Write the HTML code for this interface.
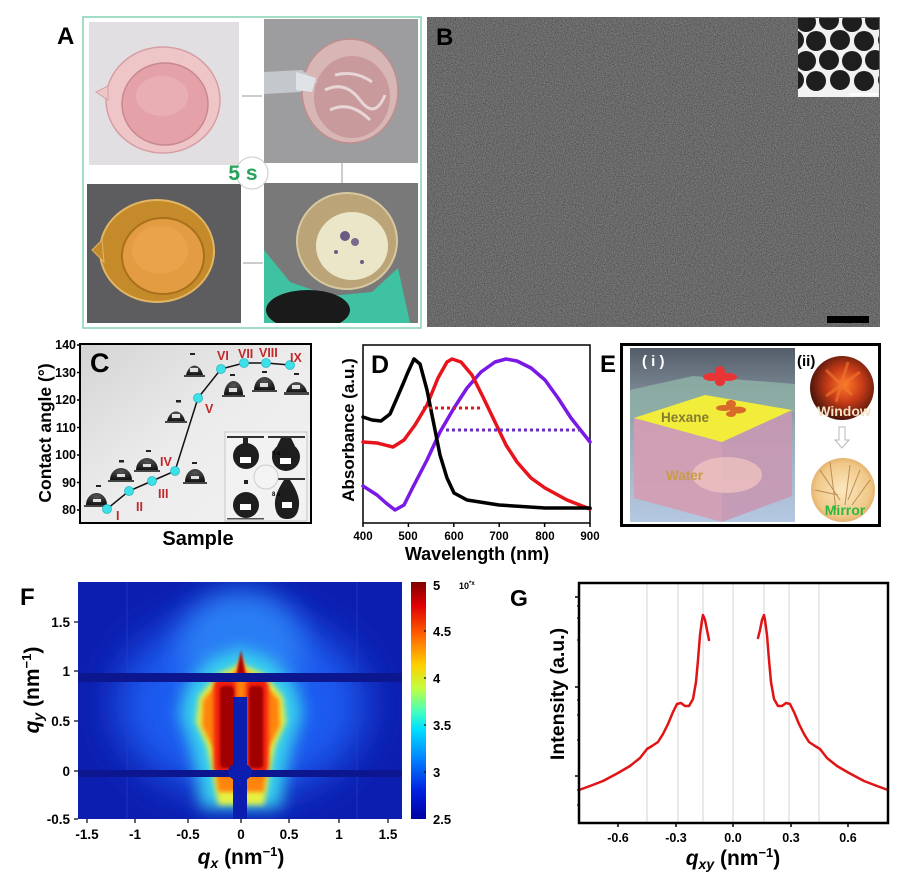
<!DOCTYPE html>
<html><head><meta charset="utf-8"><style>
html,body{margin:0;padding:0;background:#fff;}
svg{display:block;}
text{font-family:"Liberation Sans",sans-serif;font-weight:bold;}
</style></head><body>
<svg width="908" height="886" viewBox="0 0 908 886" xmlns="http://www.w3.org/2000/svg">
<defs>
  <filter id="b1" x="-50%" y="-50%" width="200%" height="200%"><feGaussianBlur stdDeviation="1"/></filter>
  <filter id="b2" x="-50%" y="-50%" width="200%" height="200%"><feGaussianBlur stdDeviation="2"/></filter>
  <filter id="b3" x="-50%" y="-50%" width="200%" height="200%"><feGaussianBlur stdDeviation="3"/></filter>
  <filter id="b5" x="-50%" y="-50%" width="200%" height="200%"><feGaussianBlur stdDeviation="5"/></filter>
  <filter id="b8" x="-50%" y="-50%" width="200%" height="200%"><feGaussianBlur stdDeviation="8"/></filter>
  <filter id="b14" x="-50%" y="-50%" width="200%" height="200%"><feGaussianBlur stdDeviation="14"/></filter>
  <filter id="b20" x="-50%" y="-50%" width="200%" height="200%"><feGaussianBlur stdDeviation="20"/></filter>
  <filter id="noise" x="0" y="0" width="100%" height="100%" color-interpolation-filters="sRGB">
    <feTurbulence type="fractalNoise" baseFrequency="0.9" numOctaves="2" seed="4"/>
    <feColorMatrix type="matrix" values="1 0 0 0 0  1 0 0 0 0  1 0 0 0 0  0 0 0 0 1"/>
  </filter>
  <linearGradient id="jet" x1="0" y1="0" x2="0" y2="1">
    <stop offset="0" stop-color="#7f0000"/>
    <stop offset="0.1" stop-color="#e00000"/>
    <stop offset="0.22" stop-color="#ff6000"/>
    <stop offset="0.35" stop-color="#ffd000"/>
    <stop offset="0.45" stop-color="#c0ff40"/>
    <stop offset="0.55" stop-color="#40ffc0"/>
    <stop offset="0.62" stop-color="#00e0ff"/>
    <stop offset="0.75" stop-color="#0080ff"/>
    <stop offset="0.88" stop-color="#0020e0"/>
    <stop offset="1" stop-color="#0000a0"/>
  </linearGradient>
  <linearGradient id="cbg" x1="0" y1="0" x2="1" y2="1">
    <stop offset="0" stop-color="#d4d4d4"/>
    <stop offset="0.5" stop-color="#ececec"/>
    <stop offset="1" stop-color="#f2f2f2"/>
  </linearGradient>
  <linearGradient id="ebg" x1="0" y1="0" x2="0" y2="1">
    <stop offset="0" stop-color="#545e6a"/>
    <stop offset="0.45" stop-color="#98a8b4"/>
    <stop offset="1" stop-color="#b4c8e2"/>
  </linearGradient>
  <radialGradient id="win" cx="0.55" cy="0.45" r="0.6">
    <stop offset="0" stop-color="#ff7a28"/>
    <stop offset="0.45" stop-color="#c83c18"/>
    <stop offset="1" stop-color="#3a0e08"/>
  </radialGradient>
  <radialGradient id="mir" cx="0.5" cy="0.5" r="0.6">
    <stop offset="0" stop-color="#fbe8c0"/>
    <stop offset="0.7" stop-color="#f0c888"/>
    <stop offset="1" stop-color="#d89850"/>
  </radialGradient>
  <radialGradient id="drop" cx="0.5" cy="0.3" r="0.7">
    <stop offset="0" stop-color="#555"/>
    <stop offset="1" stop-color="#151515"/>
  </radialGradient>
  <clipPath id="cA1"><rect x="89" y="22" width="150" height="143"/></clipPath>
  <clipPath id="cA2"><rect x="264" y="19" width="154" height="144"/></clipPath>
  <clipPath id="cA3"><rect x="87" y="184" width="154" height="139"/></clipPath>
  <clipPath id="cA4"><rect x="264" y="183" width="154" height="140"/></clipPath>
  <clipPath id="cB"><rect x="427" y="17" width="453" height="310"/></clipPath>
  <clipPath id="cBi"><rect x="798" y="18" width="81" height="79"/></clipPath>
  <clipPath id="cF"><rect x="78" y="582" width="324" height="237"/></clipPath>
  <clipPath id="cE"><rect x="630" y="348" width="165" height="174"/></clipPath>
  <clipPath id="cW"><circle cx="842" cy="388" r="32"/></clipPath>
  <clipPath id="cM"><circle cx="843" cy="490" r="32"/></clipPath>
</defs>

<!-- ================= PANEL A ================= -->
<text x="57" y="44" font-size="24">A</text>
<rect x="83" y="17" width="338" height="311" fill="none" stroke="#86d2b4" stroke-width="1.5"/>
<g clip-path="url(#cA1)">
  <rect x="89" y="22" width="150" height="143" fill="#e2dfe2"/>
  <ellipse cx="163" cy="100" rx="57" ry="53" fill="#efc6c8" stroke="#d69ea4" stroke-width="1.5"/>
  <path d="M108,86 L96,92 L108,100 Z" fill="#efc6c8" stroke="#d69ea4" stroke-width="1"/>
  <ellipse cx="165" cy="104" rx="43" ry="41" fill="#e4a2a8" stroke="#c88890" stroke-width="1.5"/>
  <ellipse cx="162" cy="96" rx="26" ry="20" fill="#eab4b8" opacity="0.7"/>
</g>
<g clip-path="url(#cA2)">
  <rect x="264" y="19" width="154" height="144" fill="#9d9d9f"/>
  <ellipse cx="350" cy="91" rx="48" ry="52" fill="#d8b6b6" stroke="#c08c8c" stroke-width="1.5"/>
  <ellipse cx="352" cy="97" rx="38" ry="41" fill="#c89a9c"/>
  <path d="M325,90 Q345,80 360,100 T385,95 M330,110 Q350,100 370,120 M335,75 Q355,70 372,82" stroke="#f0e4e4" stroke-width="3" fill="none" opacity="0.8"/>
  <polygon points="264,72 302,70 318,82 300,92 264,94" fill="#c4c8cc"/>
  <polygon points="296,72 316,78 312,92 296,90" fill="#dfe2e6"/>
</g>
<g clip-path="url(#cA3)">
  <rect x="87" y="184" width="154" height="139" fill="#5d5d5f"/>
  <ellipse cx="157" cy="251" rx="57" ry="51" fill="#c58a2a" stroke="#e2b664" stroke-width="2"/>
  <path d="M102,240 L92,250 L104,262 Z" fill="#c58a2a" stroke="#e2b664" stroke-width="1"/>
  <ellipse cx="163" cy="256" rx="41" ry="38" fill="#e49c42" stroke="#a8701c" stroke-width="2"/>
  <ellipse cx="160" cy="250" rx="28" ry="24" fill="#eca650" opacity="0.7"/>
</g>
<g clip-path="url(#cA4)">
  <rect x="264" y="183" width="154" height="140" fill="#797979"/>
  <polygon points="264,250 290,282 330,296 372,292 398,268 410,323 264,323" fill="#3ec2a2"/>
  <ellipse cx="308" cy="310" rx="42" ry="20" fill="#1a1a1a"/>
  <ellipse cx="347" cy="241" rx="50" ry="48" fill="#bba478" stroke="#d8c8a0" stroke-width="2"/>
  <ellipse cx="352" cy="246" rx="36" ry="34" fill="#ece6c8"/>
  <circle cx="345" cy="236" r="5" fill="#6a5a84"/>
  <circle cx="355" cy="242" r="4" fill="#7a6a90"/>
  <circle cx="336" cy="252" r="2" fill="#6a5a84"/>
  <circle cx="362" cy="262" r="2" fill="#6a5a84"/>
</g>
<line x1="242" y1="96" x2="262" y2="96" stroke="#999" stroke-width="1"/>
<line x1="342" y1="163" x2="342" y2="183" stroke="#999" stroke-width="1"/>
<line x1="263" y1="263" x2="243" y2="263" stroke="#999" stroke-width="1"/>
<circle cx="252" cy="173" r="16" fill="#fff" stroke="#c8c8c8" stroke-width="1"/>
<text x="243" y="180" font-size="21" fill="#25a35a" text-anchor="middle">5 s</text>

<!-- ================= PANEL B ================= -->
<g clip-path="url(#cB)">
  <rect x="427" y="17" width="453" height="310" fill="#5e5e5e"/>
  <rect x="427" y="17" width="453" height="310" filter="url(#noise)" opacity="0.35"/>
</g>
<g clip-path="url(#cBi)">
  <rect x="798" y="18" width="81" height="79" fill="#f2f2f2"/>
  <g fill="#1e1e1e">
    <circle cx="806" cy="22" r="10"/><circle cx="829" cy="20" r="10"/><circle cx="852" cy="22" r="10"/><circle cx="875" cy="20" r="10"/>
    <circle cx="816" cy="41" r="10"/><circle cx="840" cy="40" r="10"/><circle cx="864" cy="41" r="10"/><circle cx="888" cy="40" r="10"/><circle cx="794" cy="40" r="10"/>
    <circle cx="806" cy="61" r="10"/><circle cx="829" cy="60" r="10"/><circle cx="852" cy="61" r="10"/><circle cx="875" cy="60" r="10"/>
    <circle cx="816" cy="81" r="10"/><circle cx="840" cy="80" r="10"/><circle cx="864" cy="81" r="10"/><circle cx="794" cy="80" r="10"/><circle cx="888" cy="80" r="10"/>
  </g>
  <rect x="850" y="93" width="27" height="2.5" fill="#fff"/>
</g>
<rect x="827" y="316" width="42" height="7" fill="#000"/>
<text x="436" y="45" font-size="24">B</text>

<!-- ================= PANEL C ================= -->
<rect x="80" y="344" width="231" height="179" fill="url(#cbg)" stroke="#000" stroke-width="2"/>
<g font-size="12.5" text-anchor="end">
  <text x="76" y="349">140</text><text x="76" y="377">130</text><text x="76" y="404">120</text>
  <text x="76" y="432">110</text><text x="76" y="459">100</text><text x="76" y="487">90</text><text x="76" y="514">80</text>
</g>
<g stroke="#000" stroke-width="1.5">
  <line x1="77" y1="345" x2="80" y2="345"/><line x1="77" y1="372.5" x2="80" y2="372.5"/><line x1="77" y1="400" x2="80" y2="400"/>
  <line x1="77" y1="427.5" x2="80" y2="427.5"/><line x1="77" y1="455" x2="80" y2="455"/><line x1="77" y1="482.5" x2="80" y2="482.5"/><line x1="77" y1="510" x2="80" y2="510"/>
</g>
<text x="45" y="433" font-size="17.5" text-anchor="middle" transform="rotate(-90 45 433)" dy="6">Contact angle (°)</text>
<text x="198" y="545" font-size="20" text-anchor="middle">Sample</text>
<text x="90" y="372" font-size="27">C</text>
<g fill="url(#drop)">
  <path d="M86,505 A10.5,12 0 0 1 107,505 Z"/>
  <path d="M110,480 A11,12 0 0 1 132,480 Z"/>
  <path d="M136,470 A11,12 0 0 1 158,470 Z"/>
  <path d="M185,482 A10,13 0 0 1 205,482 Z"/>
  <path d="M167,421 A9.5,14 0 0 1 185,421 Z"/>
  <path d="M186,375 A9,14 0 0 1 203,375 Z"/>
  <path d="M224,395 A9.5,14 0 0 1 243,395 Z"/>
  <path d="M254,390 A10.5,13 0 0 1 275,390 Z"/>
  <path d="M286,392 A11,14 0 0 1 307,392 Z"/>
</g>
<g fill="#fff" opacity="0.85">
  <rect x="93" y="499" width="8" height="3"/><rect x="117" y="474" width="8" height="3"/><rect x="143" y="464" width="8" height="3"/>
  <rect x="191" y="476" width="8" height="3"/><rect x="172" y="414" width="8" height="4"/><rect x="190" y="368" width="8" height="4"/>
  <rect x="229" y="388" width="8" height="4"/><rect x="260" y="383" width="8" height="4"/><rect x="292" y="385" width="8" height="4"/>
</g>
<g fill="#444">
  <rect x="84" y="505" width="26" height="2"/><rect x="108" y="480" width="26" height="2"/><rect x="134" y="470" width="26" height="2"/>
  <rect x="183" y="482" width="24" height="2"/><rect x="165" y="421" width="22" height="2"/><rect x="184" y="375" width="21" height="2"/>
  <rect x="222" y="395" width="23" height="2"/><rect x="252" y="390" width="25" height="2"/><rect x="284" y="392" width="25" height="3"/>
</g>
<g fill="#222">
  <rect x="96" y="485" width="5" height="2"/><rect x="119" y="460" width="5" height="2.5"/><rect x="146" y="450" width="5" height="2"/>
  <rect x="192" y="462" width="5" height="2"/><rect x="176" y="400" width="5" height="2.5"/><rect x="190" y="353" width="5" height="2"/>
  <rect x="230" y="374" width="5" height="2"/><rect x="262" y="371" width="5" height="2"/><rect x="294" y="373" width="5" height="2"/>
</g>
<polyline points="107,509 129,491 152,481 175,471 198,398 221,369 244,363 266,363 290,365" fill="none" stroke="#111" stroke-width="1.5"/>
<g fill="#3ee0e8" stroke="#28b8c8" stroke-width="0.8">
  <circle cx="107" cy="509" r="4.5"/><circle cx="129" cy="491" r="4.5"/><circle cx="152" cy="481" r="4.5"/>
  <circle cx="175" cy="471" r="4.5"/><circle cx="198" cy="398" r="4.5"/><circle cx="221" cy="369" r="4.5"/>
  <circle cx="244" cy="363" r="4.5"/><circle cx="266" cy="363" r="4.5"/><circle cx="290" cy="365" r="4.5"/>
</g>
<g fill="#c0282c" font-size="12.5">
  <text x="116" y="520">I</text><text x="136" y="511">II</text><text x="158" y="498">III</text>
  <text x="160" y="466">IV</text><text x="205" y="413">V</text><text x="217" y="360">VI</text>
  <text x="238" y="358" font-family="Liberation Serif">VII</text><text x="259" y="357" font-family="Liberation Serif">VIII</text><text x="290" y="362">IX</text>
</g>
<rect x="225" y="432" width="82" height="89" fill="#f2f2f2" stroke="#bbb" stroke-width="0.8"/>
<g>
  <rect x="227" y="436" width="37" height="2" fill="#333"/>
  <rect x="243" y="438" width="5" height="6" fill="#222"/>
  <circle cx="246" cy="456" r="13" fill="#1e1e1e"/>
  <rect x="240" y="457" width="11" height="6" fill="#fff"/>
  <rect x="268" y="436" width="37" height="2" fill="#333"/>
  <path d="M281,438 L291,438 L295,446 L277,446 Z" fill="#1e1e1e"/>
  <circle cx="286" cy="457" r="14" fill="#1e1e1e"/>
  <rect x="280" y="458" width="11" height="6" fill="#fff"/>
  <rect x="227" y="518" width="37" height="1.5" fill="#555"/>
  <rect x="244" y="480" width="4" height="4" fill="#222"/>
  <circle cx="246" cy="505" r="13" fill="#1e1e1e"/>
  <rect x="240" y="504" width="11" height="6" fill="#fff"/>
  <rect x="268" y="478" width="37" height="2" fill="#333"/>
  <path d="M284,480 L290,480 Q300,495 299,505 Q298,519 287,519 Q276,519 275,505 Q274,495 284,480 Z" fill="#1e1e1e"/>
  <rect x="282" y="502" width="10" height="6" fill="#fff"/>
  <circle cx="266" cy="477" r="12" fill="#f4f4f4" stroke="#ccc" stroke-width="1"/>
  <text x="272" y="455" font-size="6" font-weight="normal">0 s</text>
  <text x="272" y="496" font-size="6" font-weight="normal">8 s</text>
</g>

<!-- ================= PANEL D ================= -->
<rect x="363" y="345" width="227" height="178" fill="#fff" stroke="#000" stroke-width="1.5"/>
<g stroke="#000" stroke-width="1.5">
  <line x1="363" y1="523" x2="363" y2="527"/><line x1="408.4" y1="523" x2="408.4" y2="527"/><line x1="453.8" y1="523" x2="453.8" y2="527"/>
  <line x1="499.2" y1="523" x2="499.2" y2="527"/><line x1="544.6" y1="523" x2="544.6" y2="527"/><line x1="590" y1="523" x2="590" y2="527"/>
</g>
<g font-size="11.5" text-anchor="middle">
  <text x="363" y="540">400</text><text x="408" y="540">500</text><text x="454" y="540">600</text>
  <text x="499" y="540">700</text><text x="545" y="540">800</text><text x="590" y="540">900</text>
</g>
<text x="477" y="560" font-size="18" text-anchor="middle">Wavelength (nm)</text>
<text x="348" y="430" font-size="17" text-anchor="middle" transform="rotate(-90 348 430)" dy="6">Absorbance (a.u.)</text>
<g fill="none" stroke-width="3.5" stroke-linejoin="round" stroke-linecap="round">
  <polyline stroke="#7a18e6" points="363,486 377,495 386,503 395,510 404,505 413,487 427,460 440,432 454,408 467,388 481,372 495,362 506,359 517,361 531,368 545,380 558,398 571,418 590,442"/>
  <polyline stroke="#e8141c" points="363,442 377,443 393,447 404,440 415,425 427,405 438,378 447,362 452,359 461,362 472,375 483,397 495,422 506,445 517,462 531,478 545,488 567,500 590,509"/>
  <polyline stroke="#000" points="363,417 372,420 381,421 390,414 397,398 403,384 408,372 414,359 420,364 427,390 433,420 440,455 447,478 454,493 467,500 499,505 545,508 590,508"/>
</g>
<line x1="423" y1="408" x2="482" y2="408" stroke="#e01818" stroke-width="3" stroke-dasharray="3,3"/>
<line x1="446" y1="430" x2="582" y2="430" stroke="#6a2ec2" stroke-width="3" stroke-dasharray="3,3"/>
<text x="371" y="373" font-size="25">D</text>

<!-- ================= PANEL E ================= -->
<text x="600" y="372" font-size="24">E</text>
<rect x="621.5" y="344.5" width="258" height="181" fill="#fff" stroke="#000" stroke-width="3"/>
<g clip-path="url(#cE)">
  <rect x="630" y="348" width="165" height="174" fill="url(#ebg)"/>
  <polygon points="630,390 693,376 795,384 795,412 722,442 630,418" fill="#8eb0a6" opacity="0.85"/>
  <polygon points="634,418 722,442 722,522 634,498" fill="#d49cb2" opacity="0.9"/>
  <polygon points="722,442 792,410 792,496 722,522" fill="#c898b2" opacity="0.9"/>
  <polygon points="634,418 705,395 792,410 722,442" fill="#f2ec3a"/>
  <ellipse cx="727" cy="475" rx="35" ry="18" fill="#f0c4c0" opacity="0.75"/>
  <g fill="#e83434">
    <ellipse cx="712" cy="377" rx="9" ry="4"/><ellipse cx="728" cy="377" rx="9" ry="4"/><ellipse cx="720" cy="372" rx="5" ry="6"/><ellipse cx="720" cy="382" rx="5" ry="4"/>
  </g>
  <g fill="#d86a2a">
    <ellipse cx="724" cy="408" rx="8" ry="3"/><ellipse cx="738" cy="410" rx="8" ry="3.5"/><ellipse cx="731" cy="404" rx="5" ry="4"/><ellipse cx="731" cy="414" rx="5" ry="3"/>
  </g>
  <text x="661" y="422" font-size="13.5" fill="#857a34">Hexane</text>
  <text x="666" y="480" font-size="13.5" fill="#c99c44">Water</text>
  <text x="642" y="366" font-size="15" fill="#fff">( i )</text>
</g>
<text x="797" y="366" font-size="15" fill="#000">(ii)</text>
<circle cx="842" cy="388" r="32" fill="url(#win)"/>
<g clip-path="url(#cW)">
  <path d="M826,370 L852,395 M848,362 L836,402 M860,372 L826,396" stroke="#f07a30" stroke-width="3" opacity="0.6"/>
</g>
<text x="844" y="416" font-size="14" fill="#f4e2c4" text-anchor="middle">Window</text>
<path d="M839,427 L845,427 L845,440 L849,440 L842,448 L835,440 L839,440 Z" fill="#fff" stroke="#b8b8b8" stroke-width="1"/>
<circle cx="843" cy="490" r="32" fill="url(#mir)"/>
<g clip-path="url(#cM)" stroke="#b07a40" stroke-width="1" fill="none" opacity="0.8">
  <path d="M820,470 L840,500 M830,462 L836,510 M850,465 L845,505 M860,470 L848,500 M870,480 L852,505 M815,490 L838,495"/>
</g>
<text x="845" y="515" font-size="14" fill="#2cb83e" text-anchor="middle">Mirror</text>

<!-- ================= PANEL F ================= -->
<text x="20" y="605" font-size="24">F</text>
<g clip-path="url(#cF)">
  <rect x="78" y="582" width="324" height="237" fill="#0c1eb0"/>
  <ellipse cx="241" cy="705" rx="125" ry="92" fill="#1f5cf0" filter="url(#b20)"/>
  <ellipse cx="241" cy="648" rx="62" ry="58" fill="#2a7ef4" filter="url(#b14)"/>
  <polygon points="241,648 272,660 296,688 303,714 292,745 284,780 281,808 201,808 198,780 190,745 179,714 186,688 210,660" fill="#38d2ee" filter="url(#b8)"/>
  <polygon points="241,664 264,674 283,697 286,722 275,746 268,780 264,805 218,805 214,780 207,746 196,722 199,697 218,674" fill="#e8f040" filter="url(#b3)"/>
  <polygon points="241,670 262,680 279,700 280,726 269,748 264,792 218,792 213,748 202,726 203,700 220,680" fill="#ff8410" filter="url(#b2)"/>
  <rect x="214" y="678" width="22" height="96" rx="7" fill="#f01a08" filter="url(#b2)"/>
  <rect x="246" y="678" width="22" height="96" rx="7" fill="#f01a08" filter="url(#b2)"/>
  <rect x="220" y="686" width="14" height="82" rx="4" fill="#a00000" filter="url(#b1)"/>
  <rect x="249" y="686" width="14" height="82" rx="4" fill="#a00000" filter="url(#b1)"/>
  <line x1="241" y1="582" x2="241" y2="655" stroke="#6ae4f0" stroke-width="4" filter="url(#b2)" opacity="0.8"/>
  <polygon points="233,677 241,655 249,677" fill="#ff9020" filter="url(#b2)"/>
  <polygon points="236,677 241,650 246,677" fill="#b00000" filter="url(#b1)"/>
  <line x1="127" y1="582" x2="127" y2="819" stroke="#2a44c8" stroke-width="1" opacity="0.6"/>
  <line x1="357" y1="582" x2="357" y2="819" stroke="#2a44c8" stroke-width="1" opacity="0.6"/>
  <rect x="78" y="673" width="324" height="9" fill="#0c168e"/>
  <rect x="78" y="770" width="324" height="7" fill="#0c168e"/>
  <rect x="233" y="697" width="14" height="122" fill="#0c1eb0"/>
  <ellipse cx="240" cy="772" rx="12" ry="9" fill="#0c1eb0"/>
</g>
<g stroke="#000" stroke-width="1.2">
  <line x1="74" y1="622" x2="78" y2="622"/><line x1="74" y1="671" x2="78" y2="671"/><line x1="74" y1="721" x2="78" y2="721"/>
  <line x1="74" y1="771" x2="78" y2="771"/><line x1="74" y1="819" x2="78" y2="819"/>
  <line x1="87" y1="819" x2="87" y2="823"/><line x1="135" y1="819" x2="135" y2="823"/><line x1="188" y1="819" x2="188" y2="823"/>
  <line x1="241" y1="819" x2="241" y2="823"/><line x1="289" y1="819" x2="289" y2="823"/><line x1="339" y1="819" x2="339" y2="823"/><line x1="388" y1="819" x2="388" y2="823"/>
</g>
<g font-size="13.5" text-anchor="end">
  <text x="70" y="627">1.5</text><text x="70" y="676">1</text><text x="70" y="726">0.5</text>
  <text x="70" y="776">0</text><text x="70" y="824">-0.5</text>
</g>
<g font-size="13.5" text-anchor="middle">
  <text x="87" y="839">-1.5</text><text x="135" y="839">-1</text><text x="188" y="839">-0.5</text>
  <text x="241" y="839">0</text><text x="289" y="839">0.5</text><text x="339" y="839">1</text><text x="388" y="839">1.5</text>
</g>
<text x="241" y="864" font-size="21" text-anchor="middle"><tspan font-style="italic">q</tspan><tspan font-style="italic" font-size="14" dy="4">x</tspan><tspan dy="-4"> (nm</tspan><tspan font-size="13" dy="-8">−1</tspan><tspan dy="8">)</tspan></text>
<text x="32" y="690" font-size="21" text-anchor="middle" transform="rotate(-90 32 690)" dy="7"><tspan font-style="italic">q</tspan><tspan font-style="italic" font-size="14" dy="4">y</tspan><tspan dy="-4"> (nm</tspan><tspan font-size="13" dy="-8">−1</tspan><tspan dy="8">)</tspan></text>
<rect x="411" y="582" width="15" height="237" fill="url(#jet)"/>
<g stroke="#000" stroke-width="1.2">
  <line x1="424" y1="631" x2="426" y2="631"/><line x1="424" y1="678" x2="426" y2="678"/><line x1="424" y1="725" x2="426" y2="725"/><line x1="424" y1="772" x2="426" y2="772"/>
</g>
<g font-size="13">
  <text x="433" y="590">5</text><text x="433" y="636">4.5</text><text x="433" y="683">4</text>
  <text x="433" y="730">3.5</text><text x="433" y="777">3</text><text x="433" y="824">2.5</text>
</g>
<text x="459" y="589" font-size="9">10<tspan font-size="6" dy="-4">*x</tspan></text>

<!-- ================= PANEL G ================= -->
<text x="510" y="606" font-size="23">G</text>
<g stroke="#d4d4d4" stroke-width="1">
  <line x1="647" y1="584" x2="647" y2="822"/><line x1="678" y1="584" x2="678" y2="822"/><line x1="703" y1="584" x2="703" y2="822"/>
  <line x1="733" y1="584" x2="733" y2="822"/><line x1="764" y1="584" x2="764" y2="822"/><line x1="789" y1="584" x2="789" y2="822"/><line x1="819" y1="584" x2="819" y2="822"/>
</g>
<polyline fill="none" stroke="#e01414" stroke-width="2.5" stroke-linejoin="round" stroke-linecap="round" points="579,790 590,786 603,781 618,773 630,766 640,758 647,749 652,746 658,742 663,734 668,724 673,712 677,704 681,703 685,706 689,706 693,699 696,682 698,660 700,635 702,620 703,615 705,620 707,630 709,640"/>
<polyline fill="none" stroke="#e01414" stroke-width="2.5" stroke-linejoin="round" stroke-linecap="round" points="758,638 760,630 762,620 764,615 765,620 767,635 769,660 771,682 774,699 778,706 782,706 786,703 790,704 794,712 799,724 804,734 809,742 815,746 820,749 827,758 837,766 849,773 864,781 877,786 888,790"/>
<rect x="579" y="583" width="309" height="240" fill="none" stroke="#000" stroke-width="2.5"/>
<g stroke="#000" stroke-width="1.5">
  <line x1="575" y1="597" x2="579" y2="597"/><line x1="575" y1="687" x2="579" y2="687"/><line x1="575" y1="776" x2="579" y2="776"/>
  <line x1="618" y1="823" x2="618" y2="827"/><line x1="676" y1="823" x2="676" y2="827"/><line x1="733" y1="823" x2="733" y2="827"/>
  <line x1="791" y1="823" x2="791" y2="827"/><line x1="848" y1="823" x2="848" y2="827"/>
</g>
<g stroke="#000" stroke-width="1">
  <line x1="577" y1="606" x2="579" y2="606"/><line x1="577" y1="618" x2="579" y2="618"/><line x1="577" y1="640" x2="579" y2="640"/>
  <line x1="577" y1="700" x2="579" y2="700"/><line x1="577" y1="715" x2="579" y2="715"/><line x1="577" y1="740" x2="579" y2="740"/>
  <line x1="577" y1="790" x2="579" y2="790"/><line x1="577" y1="805" x2="579" y2="805"/>
</g>
<g font-size="12.5" text-anchor="middle">
  <text x="618" y="842">-0.6</text><text x="676" y="842">-0.3</text><text x="733" y="842">0.0</text>
  <text x="791" y="842">0.3</text><text x="848" y="842">0.6</text>
</g>
<text x="733" y="865" font-size="21" text-anchor="middle"><tspan font-style="italic">q</tspan><tspan font-style="italic" font-size="14" dy="4">xy</tspan><tspan dy="-4"> (nm</tspan><tspan font-size="13" dy="-8">−1</tspan><tspan dy="8">)</tspan></text>
<text x="557" y="694" font-size="19.5" text-anchor="middle" transform="rotate(-90 557 694)" dy="7">Intensity (a.u.)</text>
</svg>
</body></html>
